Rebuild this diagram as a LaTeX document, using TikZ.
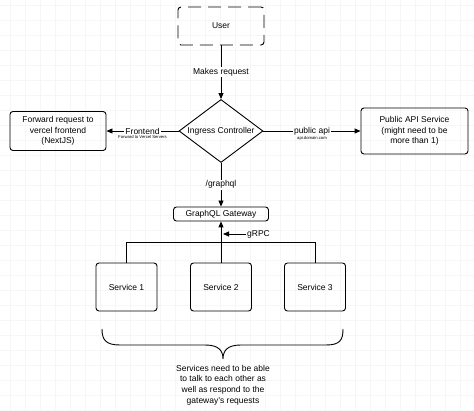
\documentclass[tikz,border=0pt]{standalone}
\usepackage{fontspec}
\setmainfont{Liberation Sans}
\usetikzlibrary{shapes.geometric,arrows.meta}

\begin{document}
\begin{tikzpicture}[x=1pt,y=-1pt,
    font=\fontsize{8.5}{10.7}\selectfont,
    box/.style={draw, line width=0.9pt, rounded corners=3pt, align=center, inner sep=0pt},
    flow/.style={line width=0.9pt, -{Triangle[length=6pt,width=5pt]}},
    tag/.style={fill=white, inner sep=1pt},
    subtag/.style={font=\fontsize{4.2}{4.5}\selectfont, inner sep=0pt}]
    % Background and faint grid
    \fill[white] (0,0) rectangle (474,411);
    \useasboundingbox (0,0) rectangle (474,411);
    \foreach \x in {10,25,...,470} \draw[gray!7] (\x,0) -- (\x,411);
    \foreach \y in {5,20,...,410} \draw[gray!7] (0,\y) -- (474,\y);

    % Boxes
    \node[box, dash pattern=on 13pt off 7pt, minimum width=86pt, minimum height=38pt] (user) at (221,26) {User};
    \node[draw, line width=0.9pt, diamond, aspect=1.33, minimum width=84pt, minimum height=63pt, inner sep=0pt,
        label=center:{Ingress Controller}] (ingress) at (221,131) {};
    \node[box, minimum width=96pt, minimum height=39pt] (vercel) at (58,131) {Forward request to\\vercel frontend\\(NextJS)};
    \node[box, minimum width=107pt, minimum height=46pt] (publicapi) at (414.5,131) {Public API Service\\(might need to be\\more than 1)};
    \node[box, minimum width=95pt, minimum height=14pt] (gateway) at (221,214) {GraphQL Gateway};
    \foreach \i/\x in {1/126.5,2/221,3/315}
        \node[box, minimum width=61pt, minimum height=48pt] (svc\i) at (\x,287) {Service \i};

    % Requests
    \draw[flow] (user) -- node[tag] {Makes request} (ingress);
    \draw[flow] (ingress) -- node[tag] (fe) {Frontend} (vercel);
    \node[subtag, anchor=north] (fesub) at (fe.south) {Forward to Vercel Servers};
    \draw[flow] (ingress) -- node[tag] (pa) {public api} (publicapi);
    \node[subtag, anchor=north] (pasub) at (pa.south) {api.domain.com};
    \draw[flow] (ingress) -- node[tag] {/graphql} (gateway);

    % Service bus
    \coordinate (busL) at (126.5,242);
    \coordinate (busM) at (221,242);
    \coordinate (busR) at (315,242);
    \draw[line width=0.9pt] (busL) -- (busR);
    \draw[flow] (busM) -- (gateway);
    \foreach \i in {1,2,3}
        \draw[line width=0.9pt] (svc\i.north) -- (svc\i.north |- busL);
    \node[inner sep=1pt] (grpc) at (258.5,234) {gRPC};
    \coordinate (grpcend) at (223,234);
    \draw[flow] (grpc.west) -- (grpcend);

    % Brace and note
    \draw[line width=0.9pt] (102,329) .. controls (102,340) and (106,345) .. (120,345) -- (205,345)
        .. controls (218,345) and (223,350) .. (223,359)
        .. controls (223,350) and (228,345) .. (241,345) -- (326,345)
        .. controls (340,345) and (343,340) .. (343,329);
    \node[align=center] (note) at (223,385) {Services need to be able\\to talk to each other as\\well as respond to the\\gateway's requests};
\end{tikzpicture}
\end{document}
